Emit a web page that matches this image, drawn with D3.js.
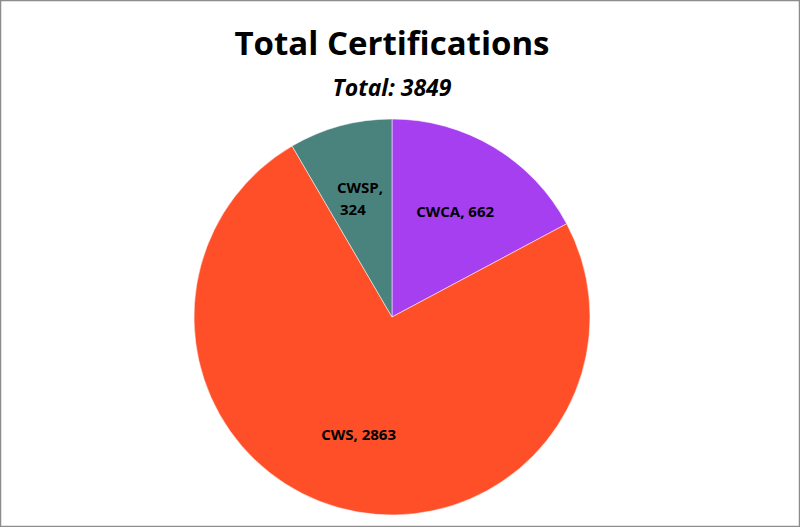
<!DOCTYPE html>
<html><head><meta charset="utf-8">
<script src="https://cdn.jsdelivr.net/npm/d3@7"></script>
<style>body{margin:0;background:#fff}svg{display:block}</style>
</head><body>
<script>
const categories = ["CWCA", "CWS", "CWSP"];
const values = [662, 2863, 324];
const colors = ["#8A35C9", "#E04222", "#3E6E69"];
const total = 3849;

const W = 800, H = 527, cx = 392, cy = 317, r = 198;
const svg = d3.select("body").append("svg").attr("width", W).attr("height", H);
svg.append("rect").attr("x",0.5).attr("y",0.5).attr("width",W-1).attr("height",H-1)
  .attr("fill","#fff").attr("stroke","#8c8c8c").attr("stroke-width",1.5);

const defs = svg.append("defs");
colors.forEach((c,i)=>{
  const g = defs.append("radialGradient").attr("id","g"+i).attr("gradientUnits","userSpaceOnUse")
    .attr("cx",cx).attr("cy",cy).attr("r",r);
  g.append("stop").attr("offset","0%").attr("stop-color",c);
  g.append("stop").attr("offset","93%").attr("stop-color",c);
  g.append("stop").attr("offset","100%").attr("stop-color",d3.color(c).brighter(0.5));
});

svg.append("text").attr("x",cx).attr("y",55).attr("text-anchor","middle")
  .attr("font-family","Open Sans, Liberation Sans, sans-serif").attr("font-weight","bold")
  .attr("font-size",33).text("Total Certifications");
svg.append("text").attr("x",cx).attr("y",96).attr("text-anchor","middle")
  .attr("font-family","Open Sans, Liberation Sans, sans-serif").attr("font-weight","bold")
  .attr("font-style","italic").attr("font-size",23).text("Total: " + total);

const pie = d3.pie().sort(null).value(d=>d)(values);
const arc = d3.arc().innerRadius(0).outerRadius(r);
const g = svg.append("g").attr("transform",`translate(${cx},${cy})`);
g.selectAll("path").data(pie).join("path").attr("d",arc)
  .attr("fill",(d,i)=>`url(#g${i})`).attr("stroke","#fff").attr("stroke-opacity",0.5).attr("stroke-width",1);

const labelArc = d3.arc().innerRadius(r*0.62).outerRadius(r*0.62);
const lab = g.selectAll("text").data(pie).join("text")
  .attr("text-anchor","middle").attr("font-family","Open Sans, Liberation Sans, sans-serif")
  .attr("font-weight","bold").attr("font-size",15).attr("fill","#000");
lab.each(function(d,i){
  const [x,y] = labelArc.centroid(d);
  const t = d3.select(this);
  if (categories[i]==="CWSP") {
    t.append("tspan").attr("x",x).attr("y",y-6).text(categories[i]+",");
    t.append("tspan").attr("x",x-7).attr("y",y+16).text(values[i]);
  } else if (categories[i]==="CWS") {
    t.attr("x",x).attr("y",y+5).text(categories[i]+", "+values[i]);
  } else {
    t.attr("x",x).attr("y",y+5).text(categories[i]+", "+values[i]);
  }
});
</script>
</body></html>
